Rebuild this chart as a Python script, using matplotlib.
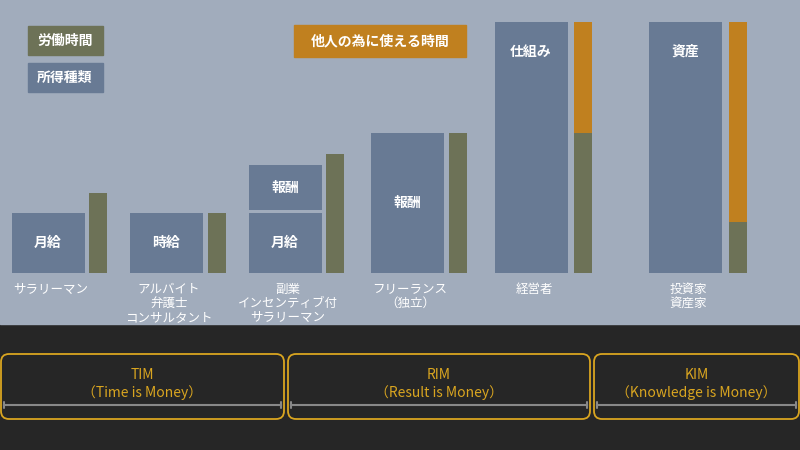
import matplotlib
matplotlib.use("Agg")
import matplotlib.pyplot as plt
from matplotlib.patches import FancyBboxPatch, Rectangle

plt.rcParams['font.family'] = ['Noto Sans CJK JP', 'DejaVu Sans']

categories = ["サラリーマン", "アルバイト\n弁護士\nコンサルタント", "副業\nインセンティブ付\nサラリーマン",
              "フリーランス\n（独立）", "経営者", "投資家\n資産家"]
income_main = [60, 60, 60, 140, 251, 251]
income_main_label = ["月給", "時給", "月給", "報酬", "仕組み", "資産"]
income_extra = [0, 0, 45, 0, 0, 0]
income_extra_label = ["", "", "報酬", "", "", ""]
work_time = [80, 60, 119, 140, 140, 51]
free_time = [0, 0, 0, 0, 111, 200]
box_centers = [48, 166, 285, 407, 531, 685]
bar_centers = [98, 217, 335, 458, 583, 738]
groups = ["TIM\n（Time is Money）", "RIM\n（Result is Money）", "KIM\n（Knowledge is Money）"]
group_spans = [(0, 285), (287, 591), (593, 800)]

BLUE = "#687a94"; OLIVE = "#6d7257"; ORANGE = "#c0801f"; GOLD = "#d9a520"

fig = plt.figure(figsize=(8, 4.5), dpi=100)
fig.patch.set_facecolor("#262626")
ax = fig.add_axes([0, 0, 1, 1])
ax.set_xlim(0, 800); ax.set_ylim(-177, 273); ax.axis("off")
ax.add_patch(Rectangle((0, -51), 800, 330, color="#a1acbc", zorder=0))

ax.bar(box_centers, income_main, width=73, color=BLUE, zorder=2)
ax.bar(box_centers, income_extra, width=73, bottom=[m + 3 for m in income_main], color=BLUE, zorder=2)
ax.bar(bar_centers, work_time, width=18, color=OLIVE, zorder=2)
ax.bar(bar_centers, free_time, width=18, bottom=work_time, color=ORANGE, zorder=2)

for i, c in enumerate(box_centers):
    ty = income_main[i] / 2 if income_main[i] < 200 else income_main[i] - 30
    ax.text(c, ty, income_main_label[i], color="white", fontsize=10, fontweight="bold", ha="center", va="center", zorder=3)
    if income_extra[i]:
        ax.text(c, income_main[i] + 3 + income_extra[i] / 2, income_extra_label[i], color="white",
                fontsize=10, fontweight="bold", ha="center", va="center", zorder=3)
    ax.text(c + 3, -10, categories[i], color="white", fontsize=9, ha="center", va="top", linespacing=1.1, zorder=3)

# legends
ax.add_patch(Rectangle((28, 218), 75, 29, color=OLIVE, zorder=2))
ax.text(65, 232.5, "労働時間", color="white", fontsize=10, fontweight="bold", ha="center", va="center", zorder=3)
ax.add_patch(Rectangle((28, 181), 75, 29, color=BLUE, zorder=2))
ax.text(65, 195.5, "所得種類", color="white", fontsize=10, fontweight="bold", ha="center", va="center", zorder=3)
ax.add_patch(Rectangle((294, 216), 172, 32, color=ORANGE, zorder=2))
ax.text(380, 232, "他人の為に使える時間", color="white", fontsize=10, fontweight="bold", ha="center", va="center", zorder=3)

for (x0, x1), g in zip(group_spans, groups):
    ax.add_patch(FancyBboxPatch((x0 + 1, -146), x1 - x0 - 2, 65, boxstyle="round,pad=0,rounding_size=8",
                                fc="none", ec=GOLD, lw=1.3, zorder=3))
    ax.text((x0 + x1) / 2, -111, g, color=GOLD, fontsize=10, ha="center", va="center", linespacing=1.3, zorder=3)
    ax.annotate("", xy=(x0 + 1, -132), xytext=(x1 - 1, -132),
                arrowprops=dict(arrowstyle="|-|,widthA=0.2,widthB=0.2", color="#888888", lw=1.5), zorder=3)

fig.savefig("out.png", dpi=100, facecolor=fig.get_facecolor())
